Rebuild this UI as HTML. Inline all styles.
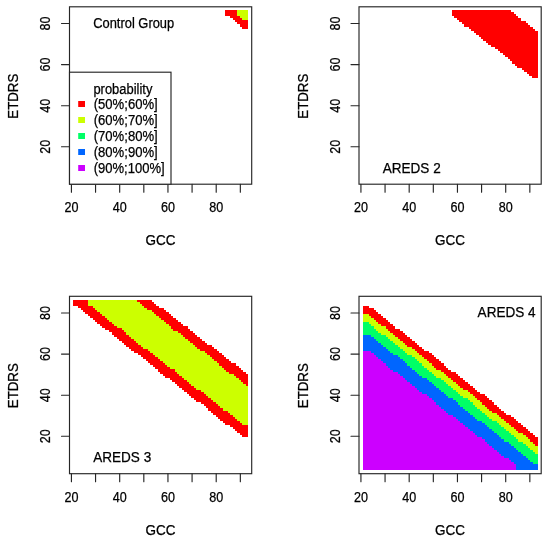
<!DOCTYPE html>
<html><head><meta charset="utf-8"><title>plot</title>
<style>html,body{margin:0;padding:0;background:#fff}svg{display:block}.t text{font-family:"Liberation Sans",Arial,Helvetica,sans-serif;font-size:14.0px;fill:#000;stroke:#000;stroke-width:0.25px}</style>
</head><body>
<svg width="550" height="539" viewBox="0 0 550 539">
<rect width="550" height="539" fill="#fff"/>
<g transform="translate(0,0)">
<g shape-rendering="crispEdges">
<path fill="#FF0000" d="M242.17 22.6h6v6h-6zM239.75 20.54h8.41v6h-8.41zM237.34 18.49h10.83v6h-10.83zM234.93 16.43h13.24v6h-13.24zM232.51 14.38h15.65v6h-15.65zM230.1 12.33h18.06v6h-18.06zM225.28 10.27h22.89v6h-22.89z"/>
<path fill="#CCFF00" d="M242.17 14.38h6v6h-6zM239.75 12.33h8.41v6h-8.41zM237.34 10.27h10.83v6h-10.83z"/>
</g>
<g stroke="#262626" stroke-width="1.15" fill="none" stroke-linecap="round">
<rect x="69.5" y="6.8" width="182.2" height="177.4"/>
<path d="M71.43 184.2v8M95.56 184.2v8M119.69 184.2v8M143.82 184.2v8M167.95 184.2v8M192.08 184.2v8M216.21 184.2v8M240.34 184.2v8M69.5 146.78h-8M69.5 105.7h-8M69.5 64.62h-8M69.5 23.54h-8"/>
</g>
<g class="t">
<text transform="translate(71.43,212.4)" text-anchor="middle" textLength="14" lengthAdjust="spacingAndGlyphs">20</text>
<text transform="translate(119.69,212.4)" text-anchor="middle" textLength="14" lengthAdjust="spacingAndGlyphs">40</text>
<text transform="translate(167.95,212.4)" text-anchor="middle" textLength="14" lengthAdjust="spacingAndGlyphs">60</text>
<text transform="translate(216.21,212.4)" text-anchor="middle" textLength="14" lengthAdjust="spacingAndGlyphs">80</text>
<text transform="translate(50.3,146.78) rotate(-90)" text-anchor="middle" textLength="14" lengthAdjust="spacingAndGlyphs">20</text>
<text transform="translate(50.3,105.7) rotate(-90)" text-anchor="middle" textLength="14" lengthAdjust="spacingAndGlyphs">40</text>
<text transform="translate(50.3,64.62) rotate(-90)" text-anchor="middle" textLength="14" lengthAdjust="spacingAndGlyphs">60</text>
<text transform="translate(50.3,23.54) rotate(-90)" text-anchor="middle" textLength="14" lengthAdjust="spacingAndGlyphs">80</text>
<text transform="translate(160.4,245)" text-anchor="middle" textLength="30" lengthAdjust="spacingAndGlyphs">GCC</text>
<text transform="translate(18,96.2) rotate(-90)" text-anchor="middle" textLength="45.07" lengthAdjust="spacingAndGlyphs">ETDRS</text>
</g>
<rect x="69.5" y="72.2" width="101.5" height="112" fill="#fff" stroke="#262626" stroke-width="1.15"/>
<g class="t">
<text transform="translate(93.4,93.7)" textLength="59" lengthAdjust="spacingAndGlyphs">probability</text>
<rect x="78.2" y="101" width="6.8" height="6" fill="#FF0000"/>
<text transform="translate(93.7,109.4)" textLength="64" lengthAdjust="spacingAndGlyphs">(50%;60%]</text>
<rect x="78.2" y="117" width="6.8" height="6" fill="#CCFF00"/>
<text transform="translate(93.7,125.4)" textLength="64" lengthAdjust="spacingAndGlyphs">(60%;70%]</text>
<rect x="78.2" y="133" width="6.8" height="6" fill="#00FF66"/>
<text transform="translate(93.7,141.4)" textLength="64" lengthAdjust="spacingAndGlyphs">(70%;80%]</text>
<rect x="78.2" y="149" width="6.8" height="6" fill="#0066FF"/>
<text transform="translate(93.7,157.4)" textLength="64" lengthAdjust="spacingAndGlyphs">(80%;90%]</text>
<rect x="78.2" y="165" width="6.8" height="6" fill="#CC00FF"/>
<text transform="translate(93.7,173.4)" textLength="71" lengthAdjust="spacingAndGlyphs">(90%;100%]</text>
</g>
<g class="t">
<text transform="translate(93.2,27.9)" textLength="81" lengthAdjust="spacingAndGlyphs">Control Group</text>
</g>
</g>
<g transform="translate(289.5,0)">
<g shape-rendering="crispEdges">
<path fill="#FF0000" d="M242.17 71.89h6v6h-6zM239.75 69.84h8.41v6h-8.41zM237.34 67.78h10.83v6h-10.83zM234.93 65.73h13.24v6h-13.24zM232.51 63.68h15.65v6h-15.65zM227.69 61.62h20.48v6h-20.48zM225.28 59.57h22.89v6h-22.89zM222.86 57.51h25.3v6h-25.3zM220.45 55.46h27.72v6h-27.72zM218.04 53.41h30.13v6h-30.13zM215.62 51.35h32.54v6h-32.54zM213.21 49.3h34.96v6h-34.96zM210.8 47.24h37.37v6h-37.37zM208.38 45.19h39.78v6h-39.78zM205.97 43.14h42.19v6h-42.19zM201.15 41.08h47.02v6h-47.02zM198.73 39.03h49.43v6h-49.43zM196.32 36.97h51.85v6h-51.85zM193.91 34.92h54.26v6h-54.26zM191.49 32.87h56.67v6h-56.67zM189.08 30.81h59.09v6h-59.09zM186.67 28.76h59.09v6h-59.09zM184.25 26.7h59.09v6h-59.09zM181.84 24.65h59.09v6h-59.09zM179.43 22.6h59.09v6h-59.09zM174.6 20.54h61.5v6h-61.5zM172.19 18.49h59.09v6h-59.09zM169.78 16.43h59.09v6h-59.09zM167.36 14.38h59.09v6h-59.09zM164.95 12.33h59.09v6h-59.09zM162.54 10.27h59.09v6h-59.09z"/>
</g>
<g stroke="#262626" stroke-width="1.15" fill="none" stroke-linecap="round">
<rect x="69.5" y="6.8" width="182.2" height="177.4"/>
<path d="M71.43 184.2v8M95.56 184.2v8M119.69 184.2v8M143.82 184.2v8M167.95 184.2v8M192.08 184.2v8M216.21 184.2v8M240.34 184.2v8M69.5 146.78h-8M69.5 105.7h-8M69.5 64.62h-8M69.5 23.54h-8"/>
</g>
<g class="t">
<text transform="translate(71.43,212.4)" text-anchor="middle" textLength="14" lengthAdjust="spacingAndGlyphs">20</text>
<text transform="translate(119.69,212.4)" text-anchor="middle" textLength="14" lengthAdjust="spacingAndGlyphs">40</text>
<text transform="translate(167.95,212.4)" text-anchor="middle" textLength="14" lengthAdjust="spacingAndGlyphs">60</text>
<text transform="translate(216.21,212.4)" text-anchor="middle" textLength="14" lengthAdjust="spacingAndGlyphs">80</text>
<text transform="translate(50.3,146.78) rotate(-90)" text-anchor="middle" textLength="14" lengthAdjust="spacingAndGlyphs">20</text>
<text transform="translate(50.3,105.7) rotate(-90)" text-anchor="middle" textLength="14" lengthAdjust="spacingAndGlyphs">40</text>
<text transform="translate(50.3,64.62) rotate(-90)" text-anchor="middle" textLength="14" lengthAdjust="spacingAndGlyphs">60</text>
<text transform="translate(50.3,23.54) rotate(-90)" text-anchor="middle" textLength="14" lengthAdjust="spacingAndGlyphs">80</text>
<text transform="translate(160.4,245)" text-anchor="middle" textLength="30" lengthAdjust="spacingAndGlyphs">GCC</text>
<text transform="translate(18,96.2) rotate(-90)" text-anchor="middle" textLength="45.07" lengthAdjust="spacingAndGlyphs">ETDRS</text>
</g>
<g class="t">
<text transform="translate(93.2,172.7)" textLength="58" lengthAdjust="spacingAndGlyphs">AREDS 2</text>
</g>
</g>
<g transform="translate(0,289.5)">
<g shape-rendering="crispEdges">
<path fill="#FF0000" d="M242.17 141.73h6v6h-6zM239.75 139.67h8.41v6h-8.41zM237.34 137.62h10.83v6h-10.83zM234.93 135.57h13.24v6h-13.24zM232.51 133.51h15.65v6h-15.65zM230.1 131.46h18.06v6h-18.06zM225.28 129.4h22.89v6h-22.89zM222.86 127.35h25.3v6h-25.3zM220.45 125.3h27.72v6h-27.72zM218.04 123.24h30.13v6h-30.13zM215.62 121.19h32.54v6h-32.54zM213.21 119.13h34.96v6h-34.96zM210.8 117.08h37.37v6h-37.37zM208.38 115.03h39.78v6h-39.78zM205.97 112.97h42.19v6h-42.19zM203.56 110.92h44.61v6h-44.61zM201.15 108.86h47.02v6h-47.02zM196.32 106.81h51.85v6h-51.85zM193.91 104.76h54.26v6h-54.26zM191.49 102.7h56.67v6h-56.67zM189.08 100.65h59.09v6h-59.09zM186.67 98.59h61.5v6h-61.5zM184.25 96.54h63.91v6h-63.91zM181.84 94.49h66.33v6h-66.33zM179.43 92.43h68.74v6h-68.74zM177.02 90.38h71.15v6h-71.15zM174.6 88.32h73.56v6h-73.56zM172.19 86.27h75.98v6h-75.98zM169.78 84.22h78.39v6h-78.39zM164.95 82.16h80.8v6h-80.8zM162.54 80.11h80.8v6h-80.8zM160.12 78.05h80.8v6h-80.8zM157.71 76h80.8v6h-80.8zM155.3 73.95h80.8v6h-80.8zM152.89 71.89h78.39v6h-78.39zM150.47 69.84h78.39v6h-78.39zM148.06 67.78h78.39v6h-78.39zM145.65 65.73h78.39v6h-78.39zM143.23 63.68h78.39v6h-78.39zM140.82 61.62h78.39v6h-78.39zM138.41 59.57h78.39v6h-78.39zM133.58 57.51h80.8v6h-80.8zM131.17 55.46h80.8v6h-80.8zM128.76 53.41h78.39v6h-78.39zM126.34 51.35h78.39v6h-78.39zM123.93 49.3h78.39v6h-78.39zM121.52 47.24h78.39v6h-78.39zM119.1 45.19h78.39v6h-78.39zM116.69 43.14h78.39v6h-78.39zM114.28 41.08h78.39v6h-78.39zM111.86 39.03h78.39v6h-78.39zM109.45 36.97h78.39v6h-78.39zM104.63 34.92h78.39v6h-78.39zM102.21 32.87h78.39v6h-78.39zM99.8 30.81h78.39v6h-78.39zM97.39 28.76h78.39v6h-78.39zM94.97 26.7h78.39v6h-78.39zM92.56 24.65h78.39v6h-78.39zM90.15 22.6h78.39v6h-78.39zM87.73 20.54h78.39v6h-78.39zM85.32 18.49h78.39v6h-78.39zM82.91 16.43h75.98v6h-75.98zM80.5 14.38h75.98v6h-75.98zM78.08 12.33h75.98v6h-75.98zM73.26 10.27h78.39v6h-78.39z"/>
<path fill="#CCFF00" d="M242.17 129.4h6v6h-6zM239.75 127.35h8.41v6h-8.41zM237.34 125.3h10.83v6h-10.83zM234.93 123.24h13.24v6h-13.24zM232.51 121.19h15.65v6h-15.65zM230.1 119.13h18.06v6h-18.06zM227.69 117.08h20.48v6h-20.48zM222.86 115.03h25.3v6h-25.3zM220.45 112.97h27.72v6h-27.72zM218.04 110.92h30.13v6h-30.13zM215.62 108.86h32.54v6h-32.54zM213.21 106.81h34.96v6h-34.96zM210.8 104.76h37.37v6h-37.37zM208.38 102.7h39.78v6h-39.78zM205.97 100.65h42.19v6h-42.19zM203.56 98.59h44.61v6h-44.61zM201.15 96.54h47.02v6h-47.02zM196.32 94.49h49.43v6h-49.43zM193.91 92.43h49.43v6h-49.43zM191.49 90.38h49.43v6h-49.43zM189.08 88.32h49.43v6h-49.43zM186.67 86.27h49.43v6h-49.43zM184.25 84.22h49.43v6h-49.43zM181.84 82.16h47.02v6h-47.02zM179.43 80.11h47.02v6h-47.02zM177.02 78.05h47.02v6h-47.02zM174.6 76h47.02v6h-47.02zM169.78 73.95h49.43v6h-49.43zM167.36 71.89h49.43v6h-49.43zM164.95 69.84h49.43v6h-49.43zM162.54 67.78h49.43v6h-49.43zM160.12 65.73h49.43v6h-49.43zM157.71 63.68h49.43v6h-49.43zM155.3 61.62h49.43v6h-49.43zM152.89 59.57h47.02v6h-47.02zM150.47 57.51h47.02v6h-47.02zM148.06 55.46h47.02v6h-47.02zM143.23 53.41h49.43v6h-49.43zM140.82 51.35h49.43v6h-49.43zM138.41 49.3h49.43v6h-49.43zM135.99 47.24h49.43v6h-49.43zM133.58 45.19h49.43v6h-49.43zM131.17 43.14h49.43v6h-49.43zM128.76 41.08h49.43v6h-49.43zM126.34 39.03h47.02v6h-47.02zM123.93 36.97h47.02v6h-47.02zM121.52 34.92h47.02v6h-47.02zM116.69 32.87h49.43v6h-49.43zM114.28 30.81h49.43v6h-49.43zM111.86 28.76h49.43v6h-49.43zM109.45 26.7h49.43v6h-49.43zM107.04 24.65h49.43v6h-49.43zM104.63 22.6h49.43v6h-49.43zM102.21 20.54h49.43v6h-49.43zM99.8 18.49h47.02v6h-47.02zM97.39 16.43h47.02v6h-47.02zM94.97 14.38h47.02v6h-47.02zM92.56 12.33h47.02v6h-47.02zM87.73 10.27h49.43v6h-49.43z"/>
</g>
<g stroke="#262626" stroke-width="1.15" fill="none" stroke-linecap="round">
<rect x="69.5" y="6.8" width="182.2" height="177.4"/>
<path d="M71.43 184.2v8M95.56 184.2v8M119.69 184.2v8M143.82 184.2v8M167.95 184.2v8M192.08 184.2v8M216.21 184.2v8M240.34 184.2v8M69.5 146.78h-8M69.5 105.7h-8M69.5 64.62h-8M69.5 23.54h-8"/>
</g>
<g class="t">
<text transform="translate(71.43,212.4)" text-anchor="middle" textLength="14" lengthAdjust="spacingAndGlyphs">20</text>
<text transform="translate(119.69,212.4)" text-anchor="middle" textLength="14" lengthAdjust="spacingAndGlyphs">40</text>
<text transform="translate(167.95,212.4)" text-anchor="middle" textLength="14" lengthAdjust="spacingAndGlyphs">60</text>
<text transform="translate(216.21,212.4)" text-anchor="middle" textLength="14" lengthAdjust="spacingAndGlyphs">80</text>
<text transform="translate(50.3,146.78) rotate(-90)" text-anchor="middle" textLength="14" lengthAdjust="spacingAndGlyphs">20</text>
<text transform="translate(50.3,105.7) rotate(-90)" text-anchor="middle" textLength="14" lengthAdjust="spacingAndGlyphs">40</text>
<text transform="translate(50.3,64.62) rotate(-90)" text-anchor="middle" textLength="14" lengthAdjust="spacingAndGlyphs">60</text>
<text transform="translate(50.3,23.54) rotate(-90)" text-anchor="middle" textLength="14" lengthAdjust="spacingAndGlyphs">80</text>
<text transform="translate(160.4,245)" text-anchor="middle" textLength="30" lengthAdjust="spacingAndGlyphs">GCC</text>
<text transform="translate(18,96.2) rotate(-90)" text-anchor="middle" textLength="45.07" lengthAdjust="spacingAndGlyphs">ETDRS</text>
</g>
<g class="t">
<text transform="translate(93.2,172.7)" textLength="58" lengthAdjust="spacingAndGlyphs">AREDS 3</text>
</g>
</g>
<g transform="translate(289.5,289.5)">
<g shape-rendering="crispEdges">
<path fill="#FF0000" d="M73.26 174.59h174.91v6h-174.91zM73.26 172.54h174.91v6h-174.91zM73.26 170.48h174.91v6h-174.91zM73.26 168.43h174.91v6h-174.91zM73.26 166.38h174.91v6h-174.91zM73.26 164.32h174.91v6h-174.91zM73.26 162.27h174.91v6h-174.91zM73.26 160.21h174.91v6h-174.91zM73.26 158.16h174.91v6h-174.91zM73.26 156.11h174.91v6h-174.91zM73.26 154.05h174.91v6h-174.91zM73.26 152h174.91v6h-174.91zM73.26 149.94h174.91v6h-174.91zM73.26 147.89h174.91v6h-174.91zM73.26 145.84h172.5v6h-172.5zM73.26 143.78h170.08v6h-170.08zM73.26 141.73h167.67v6h-167.67zM73.26 139.67h165.26v6h-165.26zM73.26 137.62h162.84v6h-162.84zM73.26 135.57h160.43v6h-160.43zM73.26 133.51h158.02v6h-158.02zM73.26 131.46h155.61v6h-155.61zM73.26 129.4h153.19v6h-153.19zM73.26 127.35h150.78v6h-150.78zM73.26 125.3h148.37v6h-148.37zM73.26 123.24h143.54v6h-143.54zM73.26 121.19h141.13v6h-141.13zM73.26 119.13h138.71v6h-138.71zM73.26 117.08h136.3v6h-136.3zM73.26 115.03h133.89v6h-133.89zM73.26 112.97h131.48v6h-131.48zM73.26 110.92h129.06v6h-129.06zM73.26 108.86h126.65v6h-126.65zM73.26 106.81h124.24v6h-124.24zM73.26 104.76h121.82v6h-121.82zM73.26 102.7h117v6h-117zM73.26 100.65h114.58v6h-114.58zM73.26 98.59h112.17v6h-112.17zM73.26 96.54h109.76v6h-109.76zM73.26 94.49h107.35v6h-107.35zM73.26 92.43h104.93v6h-104.93zM73.26 90.38h102.52v6h-102.52zM73.26 88.32h100.11v6h-100.11zM73.26 86.27h97.69v6h-97.69zM73.26 84.22h95.28v6h-95.28zM73.26 82.16h92.87v6h-92.87zM73.26 80.11h88.04v6h-88.04zM73.26 78.05h85.63v6h-85.63zM73.26 76h83.22v6h-83.22zM73.26 73.95h80.8v6h-80.8zM73.26 71.89h78.39v6h-78.39zM73.26 69.84h75.98v6h-75.98zM73.26 67.78h73.56v6h-73.56zM73.26 65.73h71.15v6h-71.15zM73.26 63.68h68.74v6h-68.74zM73.26 61.62h66.33v6h-66.33zM73.26 59.57h61.5v6h-61.5zM73.26 57.51h59.09v6h-59.09zM73.26 55.46h56.67v6h-56.67zM73.26 53.41h54.26v6h-54.26zM73.26 51.35h51.85v6h-51.85zM73.26 49.3h49.43v6h-49.43zM73.26 47.24h47.02v6h-47.02zM73.26 45.19h44.61v6h-44.61zM73.26 43.14h42.2v6h-42.2zM73.26 41.08h39.78v6h-39.78zM73.26 39.03h37.37v6h-37.37zM73.26 36.97h32.54v6h-32.54zM73.26 34.92h30.13v6h-30.13zM73.26 32.87h27.72v6h-27.72zM73.26 30.81h25.3v6h-25.3zM73.26 28.76h22.89v6h-22.89zM73.26 26.7h20.48v6h-20.48zM73.26 24.65h18.06v6h-18.06zM73.26 22.6h15.65v6h-15.65zM73.26 20.54h13.24v6h-13.24zM73.26 18.49h10.83v6h-10.83zM73.26 16.43h6v6h-6z"/>
<path fill="#CCFF00" d="M73.26 174.59h174.91v6h-174.91zM73.26 172.54h174.91v6h-174.91zM73.26 170.48h174.91v6h-174.91zM73.26 168.43h174.91v6h-174.91zM73.26 166.38h174.91v6h-174.91zM73.26 164.32h174.91v6h-174.91zM73.26 162.27h174.91v6h-174.91zM73.26 160.21h174.91v6h-174.91zM73.26 158.16h174.91v6h-174.91zM73.26 156.11h174.91v6h-174.91zM73.26 154.05h172.5v6h-172.5zM73.26 152h170.08v6h-170.08zM73.26 149.94h167.67v6h-167.67zM73.26 147.89h165.26v6h-165.26zM73.26 145.84h162.84v6h-162.84zM73.26 143.78h160.43v6h-160.43zM73.26 141.73h155.61v6h-155.61zM73.26 139.67h153.19v6h-153.19zM73.26 137.62h150.78v6h-150.78zM73.26 135.57h148.37v6h-148.37zM73.26 133.51h145.95v6h-145.95zM73.26 131.46h143.54v6h-143.54zM73.26 129.4h141.13v6h-141.13zM73.26 127.35h138.71v6h-138.71zM73.26 125.3h136.3v6h-136.3zM73.26 123.24h133.89v6h-133.89zM73.26 121.19h129.06v6h-129.06zM73.26 119.13h126.65v6h-126.65zM73.26 117.08h124.24v6h-124.24zM73.26 115.03h121.82v6h-121.82zM73.26 112.97h119.41v6h-119.41zM73.26 110.92h117v6h-117zM73.26 108.86h114.58v6h-114.58zM73.26 106.81h112.17v6h-112.17zM73.26 104.76h109.76v6h-109.76zM73.26 102.7h107.35v6h-107.35zM73.26 100.65h104.93v6h-104.93zM73.26 98.59h100.11v6h-100.11zM73.26 96.54h97.69v6h-97.69zM73.26 94.49h95.28v6h-95.28zM73.26 92.43h92.87v6h-92.87zM73.26 90.38h90.45v6h-90.45zM73.26 88.32h88.04v6h-88.04zM73.26 86.27h85.63v6h-85.63zM73.26 84.22h83.22v6h-83.22zM73.26 82.16h80.8v6h-80.8zM73.26 80.11h78.39v6h-78.39zM73.26 78.05h73.56v6h-73.56zM73.26 76h71.15v6h-71.15zM73.26 73.95h68.74v6h-68.74zM73.26 71.89h66.33v6h-66.33zM73.26 69.84h63.91v6h-63.91zM73.26 67.78h61.5v6h-61.5zM73.26 65.73h59.09v6h-59.09zM73.26 63.68h56.67v6h-56.67zM73.26 61.62h54.26v6h-54.26zM73.26 59.57h51.85v6h-51.85zM73.26 57.51h49.43v6h-49.43zM73.26 55.46h44.61v6h-44.61zM73.26 53.41h42.2v6h-42.2zM73.26 51.35h39.78v6h-39.78zM73.26 49.3h37.37v6h-37.37zM73.26 47.24h34.96v6h-34.96zM73.26 45.19h32.54v6h-32.54zM73.26 43.14h30.13v6h-30.13zM73.26 41.08h27.72v6h-27.72zM73.26 39.03h25.3v6h-25.3zM73.26 36.97h22.89v6h-22.89zM73.26 34.92h18.06v6h-18.06zM73.26 32.87h15.65v6h-15.65zM73.26 30.81h13.24v6h-13.24zM73.26 28.76h10.83v6h-10.83zM73.26 26.7h8.41v6h-8.41zM73.26 24.65h6v6h-6z"/>
<path fill="#00FF66" d="M73.26 174.59h174.91v6h-174.91zM73.26 172.54h174.91v6h-174.91zM73.26 170.48h174.91v6h-174.91zM73.26 168.43h174.91v6h-174.91zM73.26 166.38h174.91v6h-174.91zM73.26 164.32h174.91v6h-174.91zM73.26 162.27h172.5v6h-172.5zM73.26 160.21h170.08v6h-170.08zM73.26 158.16h167.67v6h-167.67zM73.26 156.11h165.26v6h-165.26zM73.26 154.05h162.84v6h-162.84zM73.26 152h160.43v6h-160.43zM73.26 149.94h155.61v6h-155.61zM73.26 147.89h153.19v6h-153.19zM73.26 145.84h150.78v6h-150.78zM73.26 143.78h148.37v6h-148.37zM73.26 141.73h145.95v6h-145.95zM73.26 139.67h143.54v6h-143.54zM73.26 137.62h141.13v6h-141.13zM73.26 135.57h138.71v6h-138.71zM73.26 133.51h136.3v6h-136.3zM73.26 131.46h133.89v6h-133.89zM73.26 129.4h129.06v6h-129.06zM73.26 127.35h126.65v6h-126.65zM73.26 125.3h124.24v6h-124.24zM73.26 123.24h121.82v6h-121.82zM73.26 121.19h119.41v6h-119.41zM73.26 119.13h117v6h-117zM73.26 117.08h114.58v6h-114.58zM73.26 115.03h112.17v6h-112.17zM73.26 112.97h109.76v6h-109.76zM73.26 110.92h107.35v6h-107.35zM73.26 108.86h104.93v6h-104.93zM73.26 106.81h100.11v6h-100.11zM73.26 104.76h97.69v6h-97.69zM73.26 102.7h95.28v6h-95.28zM73.26 100.65h92.87v6h-92.87zM73.26 98.59h90.45v6h-90.45zM73.26 96.54h88.04v6h-88.04zM73.26 94.49h85.63v6h-85.63zM73.26 92.43h83.22v6h-83.22zM73.26 90.38h80.8v6h-80.8zM73.26 88.32h78.39v6h-78.39zM73.26 86.27h73.56v6h-73.56zM73.26 84.22h71.15v6h-71.15zM73.26 82.16h68.74v6h-68.74zM73.26 80.11h66.33v6h-66.33zM73.26 78.05h63.91v6h-63.91zM73.26 76h61.5v6h-61.5zM73.26 73.95h59.09v6h-59.09zM73.26 71.89h56.67v6h-56.67zM73.26 69.84h54.26v6h-54.26zM73.26 67.78h51.85v6h-51.85zM73.26 65.73h49.43v6h-49.43zM73.26 63.68h44.61v6h-44.61zM73.26 61.62h42.2v6h-42.2zM73.26 59.57h39.78v6h-39.78zM73.26 57.51h37.37v6h-37.37zM73.26 55.46h34.96v6h-34.96zM73.26 53.41h32.54v6h-32.54zM73.26 51.35h30.13v6h-30.13zM73.26 49.3h27.72v6h-27.72zM73.26 47.24h25.3v6h-25.3zM73.26 45.19h22.89v6h-22.89zM73.26 43.14h18.06v6h-18.06zM73.26 41.08h15.65v6h-15.65zM73.26 39.03h13.24v6h-13.24zM73.26 36.97h10.83v6h-10.83zM73.26 34.92h8.41v6h-8.41zM73.26 32.87h6v6h-6z"/>
<path fill="#0066FF" d="M73.26 174.59h174.91v6h-174.91zM73.26 172.54h170.08v6h-170.08zM73.26 170.48h167.67v6h-167.67zM73.26 168.43h165.26v6h-165.26zM73.26 166.38h162.84v6h-162.84zM73.26 164.32h160.43v6h-160.43zM73.26 162.27h158.02v6h-158.02zM73.26 160.21h155.61v6h-155.61zM73.26 158.16h153.19v6h-153.19zM73.26 156.11h150.78v6h-150.78zM73.26 154.05h148.37v6h-148.37zM73.26 152h145.95v6h-145.95zM73.26 149.94h141.13v6h-141.13zM73.26 147.89h138.71v6h-138.71zM73.26 145.84h136.3v6h-136.3zM73.26 143.78h133.89v6h-133.89zM73.26 141.73h131.48v6h-131.48zM73.26 139.67h129.06v6h-129.06zM73.26 137.62h126.65v6h-126.65zM73.26 135.57h124.24v6h-124.24zM73.26 133.51h121.82v6h-121.82zM73.26 131.46h119.41v6h-119.41zM73.26 129.4h114.58v6h-114.58zM73.26 127.35h112.17v6h-112.17zM73.26 125.3h109.76v6h-109.76zM73.26 123.24h107.35v6h-107.35zM73.26 121.19h104.93v6h-104.93zM73.26 119.13h102.52v6h-102.52zM73.26 117.08h100.11v6h-100.11zM73.26 115.03h97.69v6h-97.69zM73.26 112.97h95.28v6h-95.28zM73.26 110.92h92.87v6h-92.87zM73.26 108.86h90.45v6h-90.45zM73.26 106.81h85.63v6h-85.63zM73.26 104.76h83.22v6h-83.22zM73.26 102.7h80.8v6h-80.8zM73.26 100.65h78.39v6h-78.39zM73.26 98.59h75.98v6h-75.98zM73.26 96.54h73.56v6h-73.56zM73.26 94.49h71.15v6h-71.15zM73.26 92.43h68.74v6h-68.74zM73.26 90.38h66.33v6h-66.33zM73.26 88.32h63.91v6h-63.91zM73.26 86.27h59.09v6h-59.09zM73.26 84.22h56.67v6h-56.67zM73.26 82.16h54.26v6h-54.26zM73.26 80.11h51.85v6h-51.85zM73.26 78.05h49.43v6h-49.43zM73.26 76h47.02v6h-47.02zM73.26 73.95h44.61v6h-44.61zM73.26 71.89h42.2v6h-42.2zM73.26 69.84h39.78v6h-39.78zM73.26 67.78h37.37v6h-37.37zM73.26 65.73h34.96v6h-34.96zM73.26 63.68h30.13v6h-30.13zM73.26 61.62h27.72v6h-27.72zM73.26 59.57h25.3v6h-25.3zM73.26 57.51h22.89v6h-22.89zM73.26 55.46h20.48v6h-20.48zM73.26 53.41h18.06v6h-18.06zM73.26 51.35h15.65v6h-15.65zM73.26 49.3h13.24v6h-13.24zM73.26 47.24h10.83v6h-10.83zM73.26 45.19h8.41v6h-8.41z"/>
<path fill="#CC00FF" d="M73.26 174.59h153.19v6h-153.19zM73.26 172.54h150.78v6h-150.78zM73.26 170.48h148.37v6h-148.37zM73.26 168.43h145.95v6h-145.95zM73.26 166.38h141.13v6h-141.13zM73.26 164.32h138.71v6h-138.71zM73.26 162.27h136.3v6h-136.3zM73.26 160.21h133.89v6h-133.89zM73.26 158.16h131.48v6h-131.48zM73.26 156.11h129.06v6h-129.06zM73.26 154.05h126.65v6h-126.65zM73.26 152h124.24v6h-124.24zM73.26 149.94h121.82v6h-121.82zM73.26 147.89h119.41v6h-119.41zM73.26 145.84h114.58v6h-114.58zM73.26 143.78h112.17v6h-112.17zM73.26 141.73h109.76v6h-109.76zM73.26 139.67h107.35v6h-107.35zM73.26 137.62h104.93v6h-104.93zM73.26 135.57h102.52v6h-102.52zM73.26 133.51h100.11v6h-100.11zM73.26 131.46h97.69v6h-97.69zM73.26 129.4h95.28v6h-95.28zM73.26 127.35h92.87v6h-92.87zM73.26 125.3h90.45v6h-90.45zM73.26 123.24h85.63v6h-85.63zM73.26 121.19h83.22v6h-83.22zM73.26 119.13h80.8v6h-80.8zM73.26 117.08h78.39v6h-78.39zM73.26 115.03h75.98v6h-75.98zM73.26 112.97h73.56v6h-73.56zM73.26 110.92h71.15v6h-71.15zM73.26 108.86h68.74v6h-68.74zM73.26 106.81h66.33v6h-66.33zM73.26 104.76h63.91v6h-63.91zM73.26 102.7h59.09v6h-59.09zM73.26 100.65h56.67v6h-56.67zM73.26 98.59h54.26v6h-54.26zM73.26 96.54h51.85v6h-51.85zM73.26 94.49h49.43v6h-49.43zM73.26 92.43h47.02v6h-47.02zM73.26 90.38h44.61v6h-44.61zM73.26 88.32h42.2v6h-42.2zM73.26 86.27h39.78v6h-39.78zM73.26 84.22h37.37v6h-37.37zM73.26 82.16h34.96v6h-34.96zM73.26 80.11h30.13v6h-30.13zM73.26 78.05h27.72v6h-27.72zM73.26 76h25.3v6h-25.3zM73.26 73.95h22.89v6h-22.89zM73.26 71.89h20.48v6h-20.48zM73.26 69.84h18.06v6h-18.06zM73.26 67.78h15.65v6h-15.65zM73.26 65.73h13.24v6h-13.24zM73.26 63.68h10.83v6h-10.83zM73.26 61.62h8.41v6h-8.41z"/>
</g>
<g stroke="#262626" stroke-width="1.15" fill="none" stroke-linecap="round">
<rect x="69.5" y="6.8" width="182.2" height="177.4"/>
<path d="M71.43 184.2v8M95.56 184.2v8M119.69 184.2v8M143.82 184.2v8M167.95 184.2v8M192.08 184.2v8M216.21 184.2v8M240.34 184.2v8M69.5 146.78h-8M69.5 105.7h-8M69.5 64.62h-8M69.5 23.54h-8"/>
</g>
<g class="t">
<text transform="translate(71.43,212.4)" text-anchor="middle" textLength="14" lengthAdjust="spacingAndGlyphs">20</text>
<text transform="translate(119.69,212.4)" text-anchor="middle" textLength="14" lengthAdjust="spacingAndGlyphs">40</text>
<text transform="translate(167.95,212.4)" text-anchor="middle" textLength="14" lengthAdjust="spacingAndGlyphs">60</text>
<text transform="translate(216.21,212.4)" text-anchor="middle" textLength="14" lengthAdjust="spacingAndGlyphs">80</text>
<text transform="translate(50.3,146.78) rotate(-90)" text-anchor="middle" textLength="14" lengthAdjust="spacingAndGlyphs">20</text>
<text transform="translate(50.3,105.7) rotate(-90)" text-anchor="middle" textLength="14" lengthAdjust="spacingAndGlyphs">40</text>
<text transform="translate(50.3,64.62) rotate(-90)" text-anchor="middle" textLength="14" lengthAdjust="spacingAndGlyphs">60</text>
<text transform="translate(50.3,23.54) rotate(-90)" text-anchor="middle" textLength="14" lengthAdjust="spacingAndGlyphs">80</text>
<text transform="translate(160.4,245)" text-anchor="middle" textLength="30" lengthAdjust="spacingAndGlyphs">GCC</text>
<text transform="translate(18,96.2) rotate(-90)" text-anchor="middle" textLength="45.07" lengthAdjust="spacingAndGlyphs">ETDRS</text>
</g>
<g class="t">
<text transform="translate(246.1,27.8)" text-anchor="end" textLength="58" lengthAdjust="spacingAndGlyphs">AREDS 4</text>
</g>
</g>
</svg></body></html>
